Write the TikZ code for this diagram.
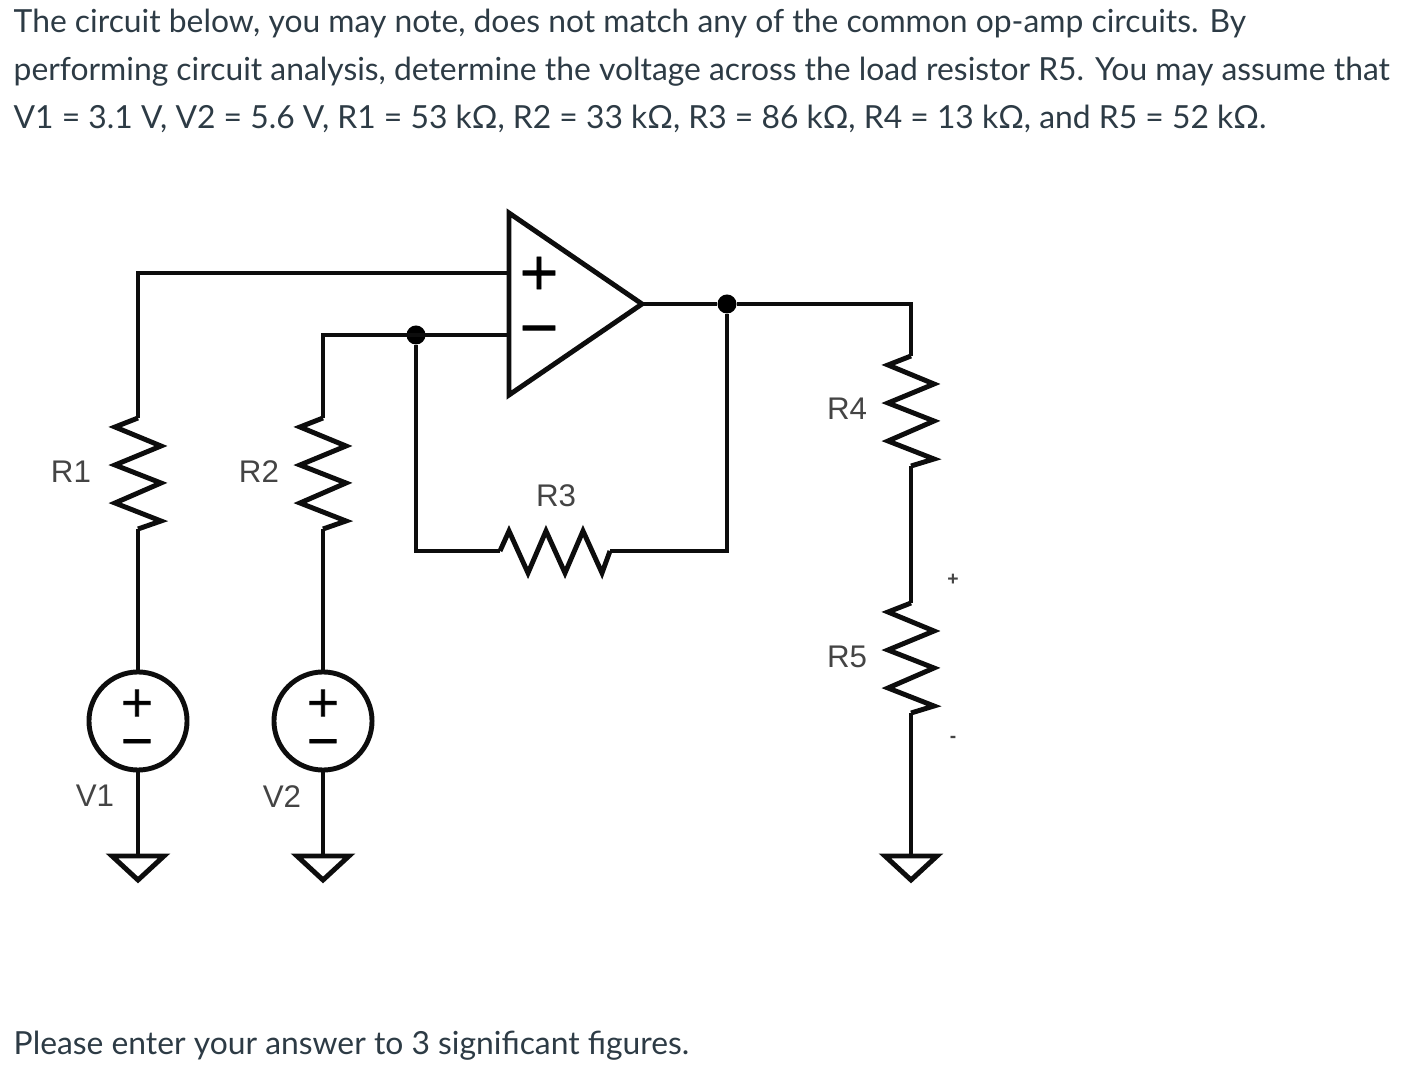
\documentclass[tikz,border=0pt]{standalone}
\usepackage{fontspec}
\setmainfont{Lato}
\newfontfamily\labfont{Liberation Sans}
\newfontfamily\signfont[FakeBold=1.5]{DejaVu Sans}
\usetikzlibrary{positioning}
\definecolor{bodytext}{HTML}{2D3B45}
\definecolor{labtext}{HTML}{444444}
\newcommand{\zigv}[2]{\draw[wire] (#1) -- ++(-23,9) -- ++(46,19) -- ++(-46,19) -- ++(46,18) -- ++(-46,20) -- ++(46,18) -- (#2);}
\newcommand{\zigh}[2]{\draw[wire] (#1) -- ++(9,-20) -- ++(19,42) -- ++(18,-42) -- ++(19,42) -- ++(18,-42) -- ++(19,42) -- (#2);}
\newcommand{\gnd}[1]{\draw[wire] (#1) ++(-26,0) -- ++(52,0) -- ++(-26,24) -- cycle;}

\begin{document}
\begin{tikzpicture}[
  x=0.01cm, y=-0.01cm,
  wire/.style={line width=1.4pt,black!95},
  para/.style={anchor=base west,inner sep=0pt,text=bodytext,font=\fontsize{9.05}{11}\selectfont},
  lab/.style={inner sep=0pt,text=labtext,font=\labfont\fontsize{8.9}{11}\selectfont},
  sign/.style={inner sep=0pt,font=\signfont\fontsize{12}{12}\selectfont},
  bigsign/.style={inner sep=0pt,font=\signfont\fontsize{14.6}{15}\selectfont},
  small/.style={inner sep=0pt,text=labtext,font=\labfont\bfseries\fontsize{5.5}{6}\selectfont},
  dot/.style={circle,fill=black,inner sep=0pt,minimum size=.19cm},
  vsrc/.style={circle,draw,wire,inner sep=0pt,minimum size=.98cm},
  ]
  \useasboundingbox (0,0) rectangle (1404,1068);

  \node[para] (L1) at (13,33) {The circuit below, you may note, does not match any of the common op-amp circuits. By};
  \node[para] (L2) at (13,81) {performing circuit analysis, determine the voltage across the load resistor R5. You may assume that};
  \node[para] (L3) at (13,129) {V1 = 3.1 V, V2 = 5.6 V, R1 = 53 kΩ, R2 = 33 kΩ, R3 = 86 kΩ, R4 = 13 kΩ, and R5 = 52 kΩ.};
  \node[para] (L4) at (13,1054) {Please enter your answer to 3 significant figures.};

  % op-amp
  \coordinate (OAt) at (509,213);
  \coordinate (OAb) at (509,395);
  \coordinate (OAo) at (642,304);
  \draw[wire] (OAt) -- (OAo) -- (OAb) -- cycle;
  \node[bigsign] (OAp) at (539,273) {+};
  \node[bigsign] (OAm) at (539,335) {−};
  \coordinate (INp) at (509,273);
  \coordinate (INm) at (509,335);

  % sources
  \node[vsrc] (V1) at (138,721) {};
  \node[vsrc] (V2) at (323,721) {};
  \node[sign] (V1p) at (137,703) {+};
  \node[sign] (V1m) at (137,747) {−};
  \node[sign] (V2p) at (323,703) {+};
  \node[sign] (V2m) at (323,747) {−};

  % resistor ends
  \coordinate (R1t) at (138,418);
  \coordinate (R1b) at (138,529);
  \coordinate (R2t) at (323,418);
  \coordinate (R2b) at (323,529);
  \coordinate (R3l) at (500,551);
  \coordinate (R3r) at (610,551);
  \coordinate (R4t) at (911,356);
  \coordinate (R4b) at (911,466);
  \coordinate (R5t) at (911,603);
  \coordinate (R5b) at (911,713);

  \zigv{R1t}{R1b}
  \zigv{R2t}{R2b}
  \zigh{R3l}{R3r}
  \zigv{R4t}{R4b}
  \zigv{R5t}{R5b}

  % grounds
  \coordinate (G1) at (138,856);
  \coordinate (G2) at (323,856);
  \coordinate (G3) at (911,856);
  \gnd{G1}
  \gnd{G2}
  \gnd{G3}

  \node[dot] (Dm) at (416,335) {};
  \node[dot] (Do) at (727,304) {};

  \draw[wire] (R1t) |- (INp);
  \draw[wire] (R2t) |- (INm);
  \draw[wire] (OAo) -- (Do) -- (Do -| R4t) -- (R4t);
  \draw[wire] (Dm) |- (R3l);
  \draw[wire] (R3r) -| (Do);
  \draw[wire] (R4b) -- (R5t);
  \draw[wire] (R1b) -- (V1);
  \draw[wire] (R2b) -- (V2);
  \draw[wire] (V1) -- (G1);
  \draw[wire] (V2) -- (G2);
  \draw[wire] (R5b) -- (G3);

  \node[lab] (R1) at (71,472) {R1};
  \node[lab] (R2) at (259,472) {R2};
  \node[lab] (R3) at (556,496) {R3};
  \node[lab] (R4) at (847,409) {R4};
  \node[lab] (R5) at (847,657) {R5};
  \node[lab] (V1l) at (95,796) {V1};
  \node[lab] (V2l) at (282,797) {V2};
  \node[small] (R5p) at (953,580) {+};
  \node[small] (R5m) at (953,739) {-};
\end{tikzpicture}
\end{document}
